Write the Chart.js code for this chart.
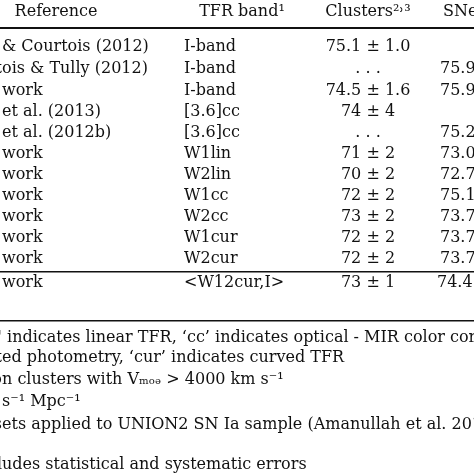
<!DOCTYPE html>
<html><head><meta charset="utf-8">
<script src="https://cdn.jsdelivr.net/npm/chart.js@4"></script>
<style>html,body{margin:0;padding:0;background:#fff}#w{width:474px;height:474px}</style>
</head><body><div id="w"><canvas id="c" width="474" height="474"></canvas></div>
<script>
const references = ["Tully & Courtois (2012)","Courtois & Tully (2012)","This work","Sorce et al. (2013)","Sorce et al. (2012b)","This work","This work","This work","This work","This work","This work"];
const refHidden = ["Tully ","Court","This ","Sorce ","Sorce ","This ","This ","This ","This ","This ","This "];
const bands = ["I-band","I-band","I-band","[3.6]cc","[3.6]cc","W1lin","W2lin","W1cc","W2cc","W1cur","W2cur"];
const clusters = ["75.1 ± 1.0",". . .","74.5 ± 1.6","74 ± 4",". . .","71 ± 2","70 ± 2","72 ± 2","73 ± 2","72 ± 2","72 ± 2"];
const sne = ["","75.9 ± 3.8","75.9 ± 3.8","","75.2 ± 3.3","73.0 ± 4.0","72.7 ± 4.0","75.1 ± 4.0","73.7 ± 4.0","73.7 ± 4.0","73.7 ± 4.0"];
const finalRow = ["This work","<W12cur,I>","73 ± 1","74.4 ± 3.0"];
const headers = ["Reference","TFR band¹","Clusters²˒³","SNe Ia"];
const footnotes = [
 ["¹ 'lin'"," indicates linear TFR, ‘cc’ indicates optical - MIR color corrected"],
 ["correct","ed photometry, ‘cur’ indicates curved TFR"],
 ["³ Based o","n clusters with V\u2098\u2092\u2094 > 4000 km s⁻¹"],
 ["² In km ","s⁻¹ Mpc⁻¹"],
 ["³ Zero-point offs","ets applied to UNION2 SN Ia sample (Amanullah et al. 2010)"],
 ["⁴ Incl","udes statistical and systematic errors"]
];
const F = '"DejaVu Serif", "Liberation Serif", serif';
const tablePlugin = {id:'table', afterDraw(chart){
  const ctx = chart.ctx; ctx.save(); ctx.fillStyle='#111'; ctx.textBaseline='middle';
  ctx.font = '16px '+F;
  const rowY = [47,69,91,112,133,154,175,196,217,238,259];
  ctx.textAlign='center';
  ctx.fillText(headers[0],56,12); ctx.fillText(headers[1],242,12); ctx.fillText(headers[2],368,12);
  ctx.textAlign='left'; ctx.fillText(headers[3],443,12);
  ctx.fillRect(0,27,474,2);
  const leftRef = (t,h,y)=>{ctx.textAlign='left'; ctx.fillText(t,2-ctx.measureText(h).width,y);};
  references.forEach((r,i)=>{
    const y=rowY[i]; leftRef(r,refHidden[i],y);
    ctx.textAlign='left'; ctx.fillText(bands[i],184,y);
    ctx.textAlign='center'; ctx.fillText(clusters[i],368,y);
    ctx.textAlign='left'; ctx.fillText(sne[i],440,y);
  });
  ctx.fillRect(0,271,474,1.5);
  leftRef(finalRow[0],"This ",283);
  ctx.textAlign='left'; ctx.fillText(finalRow[1],184,283);
  ctx.textAlign='center'; ctx.fillText(finalRow[2],368,283);
  ctx.textAlign='left'; ctx.fillText(finalRow[3],437,283);
  ctx.fillRect(0,320,474,1.5);
  const fy=[338,358,380,402,425,465];
  footnotes.forEach((f,i)=>leftRef(f[0]+f[1],f[0],fy[i]));
  ctx.restore();
}};
new Chart(document.getElementById('c'),{type:'scatter',data:{datasets:[]},
 options:{responsive:false,animation:false,layout:{padding:0},plugins:{legend:{display:false},tooltip:{enabled:false}},
 scales:{x:{display:false},y:{display:false}}},plugins:[tablePlugin]});
</script></body></html>
